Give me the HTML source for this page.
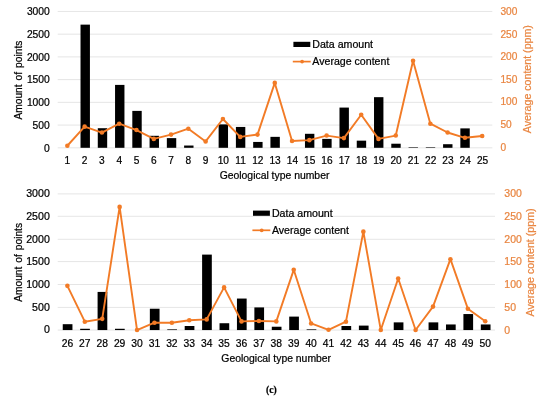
<!DOCTYPE html>
<html><head><meta charset="utf-8"><title>chart</title><style>html,body{margin:0;padding:0;background:#fff}body{width:550px;height:402px;overflow:hidden}</style></head><body>
<svg width="550" height="402" viewBox="0 0 550 402" style="display:block;font-family:'Liberation Sans',Arial,sans-serif;font-size:10.2px">
<rect width="550" height="402" fill="#fff"/>
<line x1="57.7" x2="492.3" y1="147.80" y2="147.80" stroke="#DCDCDC" stroke-width="0.75"/>
<text x="49.8" y="151.50" text-anchor="end" fill="#000" stroke="#000" stroke-width="0.22" style="font-size:10.3px">0</text>
<text x="500.4" y="150.60" fill="#E98540" stroke="#E98540" stroke-width="0.22" style="font-size:10.15px">0</text>
<line x1="57.7" x2="492.3" y1="125.08" y2="125.08" stroke="#DCDCDC" stroke-width="0.75"/>
<text x="49.8" y="128.78" text-anchor="end" fill="#000" stroke="#000" stroke-width="0.22" style="font-size:10.3px">500</text>
<text x="500.4" y="128.03" fill="#E98540" stroke="#E98540" stroke-width="0.22" style="font-size:10.15px">50</text>
<line x1="57.7" x2="492.3" y1="102.35" y2="102.35" stroke="#DCDCDC" stroke-width="0.75"/>
<text x="49.8" y="106.05" text-anchor="end" fill="#000" stroke="#000" stroke-width="0.22" style="font-size:10.3px">1000</text>
<text x="500.4" y="105.45" fill="#E98540" stroke="#E98540" stroke-width="0.22" style="font-size:10.15px">100</text>
<line x1="57.7" x2="492.3" y1="79.62" y2="79.62" stroke="#DCDCDC" stroke-width="0.75"/>
<text x="49.8" y="83.33" text-anchor="end" fill="#000" stroke="#000" stroke-width="0.22" style="font-size:10.3px">1500</text>
<text x="500.4" y="82.88" fill="#E98540" stroke="#E98540" stroke-width="0.22" style="font-size:10.15px">150</text>
<line x1="57.7" x2="492.3" y1="56.90" y2="56.90" stroke="#DCDCDC" stroke-width="0.75"/>
<text x="49.8" y="60.60" text-anchor="end" fill="#000" stroke="#000" stroke-width="0.22" style="font-size:10.3px">2000</text>
<text x="500.4" y="60.30" fill="#E98540" stroke="#E98540" stroke-width="0.22" style="font-size:10.15px">200</text>
<line x1="57.7" x2="492.3" y1="34.17" y2="34.17" stroke="#DCDCDC" stroke-width="0.75"/>
<text x="49.8" y="37.88" text-anchor="end" fill="#000" stroke="#000" stroke-width="0.22" style="font-size:10.3px">2500</text>
<text x="500.4" y="37.73" fill="#E98540" stroke="#E98540" stroke-width="0.22" style="font-size:10.15px">250</text>
<line x1="57.7" x2="492.3" y1="11.45" y2="11.45" stroke="#DCDCDC" stroke-width="0.75"/>
<text x="49.8" y="15.15" text-anchor="end" fill="#000" stroke="#000" stroke-width="0.22" style="font-size:10.3px">3000</text>
<text x="500.4" y="15.15" fill="#E98540" stroke="#E98540" stroke-width="0.22" style="font-size:10.15px">300</text>
<rect x="80.52" y="24.63" width="9.4" height="123.17" fill="#000"/>
<rect x="97.78" y="128.21" width="9.4" height="19.59" fill="#000"/>
<rect x="115.05" y="84.90" width="9.4" height="62.90" fill="#000"/>
<rect x="132.31" y="110.89" width="9.4" height="36.91" fill="#000"/>
<rect x="149.58" y="135.80" width="9.4" height="12.00" fill="#000"/>
<rect x="166.84" y="138.12" width="9.4" height="9.68" fill="#000"/>
<rect x="184.11" y="145.53" width="9.4" height="2.27" fill="#000"/>
<rect x="218.63" y="124.39" width="9.4" height="23.41" fill="#000"/>
<rect x="235.90" y="126.94" width="9.4" height="20.86" fill="#000"/>
<rect x="253.17" y="141.94" width="9.4" height="5.86" fill="#000"/>
<rect x="270.43" y="136.85" width="9.4" height="10.95" fill="#000"/>
<rect x="304.96" y="133.80" width="9.4" height="14.00" fill="#000"/>
<rect x="322.23" y="138.89" width="9.4" height="8.91" fill="#000"/>
<rect x="339.49" y="107.58" width="9.4" height="40.22" fill="#000"/>
<rect x="356.75" y="140.66" width="9.4" height="7.14" fill="#000"/>
<rect x="374.02" y="97.17" width="9.4" height="50.63" fill="#000"/>
<rect x="391.29" y="143.71" width="9.4" height="4.09" fill="#000"/>
<rect x="408.55" y="147.25" width="9.4" height="0.55" fill="#000"/>
<rect x="425.81" y="147.25" width="9.4" height="0.55" fill="#000"/>
<rect x="443.08" y="144.21" width="9.4" height="3.59" fill="#000"/>
<rect x="460.35" y="128.39" width="9.4" height="19.41" fill="#000"/>
<polyline fill="none" stroke="#F27B26" stroke-width="1.9" stroke-linejoin="round" points="67.35,145.75 84.63,126.67 101.92,132.53 119.20,123.71 136.49,130.07 153.77,138.89 171.06,134.62 188.34,128.71 205.63,141.44 222.91,119.03 240.20,136.89 257.49,134.62 274.77,82.90 292.06,140.98 309.34,140.16 326.62,135.57 343.91,138.12 361.20,114.71 378.48,138.89 395.76,135.57 413.05,60.76 430.34,123.71 447.62,132.48 464.90,137.80 482.19,136.03"/>
<circle cx="67.35" cy="145.75" r="2.3" fill="#F27B26"/>
<circle cx="84.63" cy="126.67" r="2.3" fill="#F27B26"/>
<circle cx="101.92" cy="132.53" r="2.3" fill="#F27B26"/>
<circle cx="119.20" cy="123.71" r="2.3" fill="#F27B26"/>
<circle cx="136.49" cy="130.07" r="2.3" fill="#F27B26"/>
<circle cx="153.77" cy="138.89" r="2.3" fill="#F27B26"/>
<circle cx="171.06" cy="134.62" r="2.3" fill="#F27B26"/>
<circle cx="188.34" cy="128.71" r="2.3" fill="#F27B26"/>
<circle cx="205.63" cy="141.44" r="2.3" fill="#F27B26"/>
<circle cx="222.91" cy="119.03" r="2.3" fill="#F27B26"/>
<circle cx="240.20" cy="136.89" r="2.3" fill="#F27B26"/>
<circle cx="257.49" cy="134.62" r="2.3" fill="#F27B26"/>
<circle cx="274.77" cy="82.90" r="2.3" fill="#F27B26"/>
<circle cx="292.06" cy="140.98" r="2.3" fill="#F27B26"/>
<circle cx="309.34" cy="140.16" r="2.3" fill="#F27B26"/>
<circle cx="326.62" cy="135.57" r="2.3" fill="#F27B26"/>
<circle cx="343.91" cy="138.12" r="2.3" fill="#F27B26"/>
<circle cx="361.20" cy="114.71" r="2.3" fill="#F27B26"/>
<circle cx="378.48" cy="138.89" r="2.3" fill="#F27B26"/>
<circle cx="395.76" cy="135.57" r="2.3" fill="#F27B26"/>
<circle cx="413.05" cy="60.76" r="2.3" fill="#F27B26"/>
<circle cx="430.34" cy="123.71" r="2.3" fill="#F27B26"/>
<circle cx="447.62" cy="132.48" r="2.3" fill="#F27B26"/>
<circle cx="464.90" cy="137.80" r="2.3" fill="#F27B26"/>
<circle cx="482.19" cy="136.03" r="2.3" fill="#F27B26"/>
<text x="67.35" y="163.70" text-anchor="middle" fill="#000" stroke="#000" stroke-width="0.22" style="font-size:10.15px">1</text>
<text x="84.63" y="163.70" text-anchor="middle" fill="#000" stroke="#000" stroke-width="0.22" style="font-size:10.15px">2</text>
<text x="101.92" y="163.70" text-anchor="middle" fill="#000" stroke="#000" stroke-width="0.22" style="font-size:10.15px">3</text>
<text x="119.20" y="163.70" text-anchor="middle" fill="#000" stroke="#000" stroke-width="0.22" style="font-size:10.15px">4</text>
<text x="136.49" y="163.70" text-anchor="middle" fill="#000" stroke="#000" stroke-width="0.22" style="font-size:10.15px">5</text>
<text x="153.77" y="163.70" text-anchor="middle" fill="#000" stroke="#000" stroke-width="0.22" style="font-size:10.15px">6</text>
<text x="171.06" y="163.70" text-anchor="middle" fill="#000" stroke="#000" stroke-width="0.22" style="font-size:10.15px">7</text>
<text x="188.34" y="163.70" text-anchor="middle" fill="#000" stroke="#000" stroke-width="0.22" style="font-size:10.15px">8</text>
<text x="205.63" y="163.70" text-anchor="middle" fill="#000" stroke="#000" stroke-width="0.22" style="font-size:10.15px">9</text>
<text x="223.26" y="163.70" text-anchor="middle" fill="#000" stroke="#000" stroke-width="0.22" style="font-size:10.15px">10</text>
<text x="240.55" y="163.70" text-anchor="middle" fill="#000" stroke="#000" stroke-width="0.22" style="font-size:10.15px">11</text>
<text x="257.84" y="163.70" text-anchor="middle" fill="#000" stroke="#000" stroke-width="0.22" style="font-size:10.15px">12</text>
<text x="275.12" y="163.70" text-anchor="middle" fill="#000" stroke="#000" stroke-width="0.22" style="font-size:10.15px">13</text>
<text x="292.41" y="163.70" text-anchor="middle" fill="#000" stroke="#000" stroke-width="0.22" style="font-size:10.15px">14</text>
<text x="309.69" y="163.70" text-anchor="middle" fill="#000" stroke="#000" stroke-width="0.22" style="font-size:10.15px">15</text>
<text x="326.98" y="163.70" text-anchor="middle" fill="#000" stroke="#000" stroke-width="0.22" style="font-size:10.15px">16</text>
<text x="344.26" y="163.70" text-anchor="middle" fill="#000" stroke="#000" stroke-width="0.22" style="font-size:10.15px">17</text>
<text x="361.55" y="163.70" text-anchor="middle" fill="#000" stroke="#000" stroke-width="0.22" style="font-size:10.15px">18</text>
<text x="378.83" y="163.70" text-anchor="middle" fill="#000" stroke="#000" stroke-width="0.22" style="font-size:10.15px">19</text>
<text x="396.12" y="163.70" text-anchor="middle" fill="#000" stroke="#000" stroke-width="0.22" style="font-size:10.15px">20</text>
<text x="413.40" y="163.70" text-anchor="middle" fill="#000" stroke="#000" stroke-width="0.22" style="font-size:10.15px">21</text>
<text x="430.69" y="163.70" text-anchor="middle" fill="#000" stroke="#000" stroke-width="0.22" style="font-size:10.15px">22</text>
<text x="447.97" y="163.70" text-anchor="middle" fill="#000" stroke="#000" stroke-width="0.22" style="font-size:10.15px">23</text>
<text x="465.25" y="163.70" text-anchor="middle" fill="#000" stroke="#000" stroke-width="0.22" style="font-size:10.15px">24</text>
<text x="482.54" y="163.70" text-anchor="middle" fill="#000" stroke="#000" stroke-width="0.22" style="font-size:10.15px">25</text>
<text x="274.5" y="179.00" text-anchor="middle" fill="#000" stroke="#000" stroke-width="0.22" style="font-size:10.4px">Geological type number</text>
<text transform="translate(21.5,80.12) rotate(-90)" text-anchor="middle" fill="#000" stroke="#000" stroke-width="0.22" style="word-spacing:1.2px">Amount of points</text>
<text transform="translate(530.9,79.12) rotate(-90)" text-anchor="middle" fill="#E98540" stroke="#E98540" stroke-width="0.22" style="font-size:10.65px">Average content (ppm)</text>
<rect x="293.4" y="41.80" width="16.9" height="5.2" fill="#000"/>
<text x="312.29999999999995" y="48.10" fill="#000" stroke="#000" stroke-width="0.22" style="font-size:10.62px">Data amount</text>
<line x1="292.79999999999995" x2="310.7" y1="61.60" y2="61.60" stroke="#F27B26" stroke-width="1.7"/>
<circle cx="302.09999999999997" cy="61.60" r="1.9" fill="#F27B26"/>
<text x="312.29999999999995" y="65.30" fill="#000" stroke="#000" stroke-width="0.22" style="font-size:10.62px">Average content</text>
<line x1="57.7" x2="495.0" y1="330.05" y2="330.05" stroke="#DCDCDC" stroke-width="0.75"/>
<text x="49.8" y="333.25" text-anchor="end" fill="#000" stroke="#000" stroke-width="0.22" style="font-size:10.6px">0</text>
<text x="504.3" y="333.55" fill="#E98540" stroke="#E98540" stroke-width="0.22" style="font-size:10.5px">0</text>
<line x1="57.7" x2="495.0" y1="307.40" y2="307.40" stroke="#DCDCDC" stroke-width="0.75"/>
<text x="49.8" y="310.60" text-anchor="end" fill="#000" stroke="#000" stroke-width="0.22" style="font-size:10.6px">500</text>
<text x="504.3" y="310.90" fill="#E98540" stroke="#E98540" stroke-width="0.22" style="font-size:10.5px">50</text>
<line x1="57.7" x2="495.0" y1="284.50" y2="284.50" stroke="#DCDCDC" stroke-width="0.75"/>
<text x="49.8" y="287.70" text-anchor="end" fill="#000" stroke="#000" stroke-width="0.22" style="font-size:10.6px">1000</text>
<text x="504.3" y="288.00" fill="#E98540" stroke="#E98540" stroke-width="0.22" style="font-size:10.5px">100</text>
<line x1="57.7" x2="495.0" y1="261.60" y2="261.60" stroke="#DCDCDC" stroke-width="0.75"/>
<text x="49.8" y="264.80" text-anchor="end" fill="#000" stroke="#000" stroke-width="0.22" style="font-size:10.6px">1500</text>
<text x="504.3" y="265.10" fill="#E98540" stroke="#E98540" stroke-width="0.22" style="font-size:10.5px">150</text>
<line x1="57.7" x2="495.0" y1="239.30" y2="239.30" stroke="#DCDCDC" stroke-width="0.75"/>
<text x="49.8" y="242.50" text-anchor="end" fill="#000" stroke="#000" stroke-width="0.22" style="font-size:10.6px">2000</text>
<text x="504.3" y="242.80" fill="#E98540" stroke="#E98540" stroke-width="0.22" style="font-size:10.5px">200</text>
<line x1="57.7" x2="495.0" y1="216.30" y2="216.30" stroke="#DCDCDC" stroke-width="0.75"/>
<text x="49.8" y="219.50" text-anchor="end" fill="#000" stroke="#000" stroke-width="0.22" style="font-size:10.6px">2500</text>
<text x="504.3" y="219.80" fill="#E98540" stroke="#E98540" stroke-width="0.22" style="font-size:10.5px">250</text>
<line x1="57.7" x2="495.0" y1="193.90" y2="193.90" stroke="#DCDCDC" stroke-width="0.75"/>
<text x="49.8" y="197.10" text-anchor="end" fill="#000" stroke="#000" stroke-width="0.22" style="font-size:10.6px">3000</text>
<text x="504.3" y="197.40" fill="#E98540" stroke="#E98540" stroke-width="0.22" style="font-size:10.5px">300</text>
<rect x="62.75" y="324.19" width="9.7" height="5.86" fill="#000"/>
<rect x="80.17" y="328.78" width="9.7" height="1.27" fill="#000"/>
<rect x="97.59" y="291.92" width="9.7" height="38.13" fill="#000"/>
<rect x="115.01" y="328.78" width="9.7" height="1.27" fill="#000"/>
<rect x="149.85" y="308.73" width="9.7" height="21.32" fill="#000"/>
<rect x="167.27" y="329.37" width="9.7" height="0.68" fill="#000"/>
<rect x="184.69" y="326.00" width="9.7" height="4.05" fill="#000"/>
<rect x="202.11" y="254.60" width="9.7" height="75.45" fill="#000"/>
<rect x="219.53" y="323.23" width="9.7" height="6.82" fill="#000"/>
<rect x="236.95" y="298.55" width="9.7" height="31.50" fill="#000"/>
<rect x="254.37" y="307.42" width="9.7" height="22.63" fill="#000"/>
<rect x="271.79" y="326.73" width="9.7" height="3.32" fill="#000"/>
<rect x="289.21" y="316.60" width="9.7" height="13.45" fill="#000"/>
<rect x="306.63" y="329.37" width="9.7" height="0.68" fill="#000"/>
<rect x="341.47" y="326.00" width="9.7" height="4.05" fill="#000"/>
<rect x="358.89" y="325.60" width="9.7" height="4.45" fill="#000"/>
<rect x="393.73" y="322.37" width="9.7" height="7.68" fill="#000"/>
<rect x="428.57" y="322.37" width="9.7" height="7.68" fill="#000"/>
<rect x="445.99" y="324.46" width="9.7" height="5.59" fill="#000"/>
<rect x="463.41" y="314.05" width="9.7" height="16.00" fill="#000"/>
<rect x="480.83" y="324.46" width="9.7" height="5.59" fill="#000"/>
<polyline fill="none" stroke="#F27B26" stroke-width="1.9" stroke-linejoin="round" points="67.40,285.83 84.81,321.69 102.22,318.87 119.63,206.88 137.04,330.05 154.45,322.69 171.86,322.69 189.27,320.19 206.68,319.41 224.09,287.42 241.50,321.41 258.91,320.96 276.32,321.41 293.73,269.83 311.14,323.46 328.55,329.82 345.96,321.69 363.37,231.65 380.78,330.05 398.19,278.56 415.60,330.05 433.01,306.60 450.42,259.19 467.83,308.69 485.24,321.19"/>
<circle cx="67.40" cy="285.83" r="2.3" fill="#F27B26"/>
<circle cx="84.81" cy="321.69" r="2.3" fill="#F27B26"/>
<circle cx="102.22" cy="318.87" r="2.3" fill="#F27B26"/>
<circle cx="119.63" cy="206.88" r="2.3" fill="#F27B26"/>
<circle cx="137.04" cy="330.05" r="2.3" fill="#F27B26"/>
<circle cx="154.45" cy="322.69" r="2.3" fill="#F27B26"/>
<circle cx="171.86" cy="322.69" r="2.3" fill="#F27B26"/>
<circle cx="189.27" cy="320.19" r="2.3" fill="#F27B26"/>
<circle cx="206.68" cy="319.41" r="2.3" fill="#F27B26"/>
<circle cx="224.09" cy="287.42" r="2.3" fill="#F27B26"/>
<circle cx="241.50" cy="321.41" r="2.3" fill="#F27B26"/>
<circle cx="258.91" cy="320.96" r="2.3" fill="#F27B26"/>
<circle cx="276.32" cy="321.41" r="2.3" fill="#F27B26"/>
<circle cx="293.73" cy="269.83" r="2.3" fill="#F27B26"/>
<circle cx="311.14" cy="323.46" r="2.3" fill="#F27B26"/>
<circle cx="328.55" cy="329.82" r="2.3" fill="#F27B26"/>
<circle cx="345.96" cy="321.69" r="2.3" fill="#F27B26"/>
<circle cx="363.37" cy="231.65" r="2.3" fill="#F27B26"/>
<circle cx="380.78" cy="330.05" r="2.3" fill="#F27B26"/>
<circle cx="398.19" cy="278.56" r="2.3" fill="#F27B26"/>
<circle cx="415.60" cy="330.05" r="2.3" fill="#F27B26"/>
<circle cx="433.01" cy="306.60" r="2.3" fill="#F27B26"/>
<circle cx="450.42" cy="259.19" r="2.3" fill="#F27B26"/>
<circle cx="467.83" cy="308.69" r="2.3" fill="#F27B26"/>
<circle cx="485.24" cy="321.19" r="2.3" fill="#F27B26"/>
<text x="67.40" y="347.00" text-anchor="middle" fill="#000" stroke="#000" stroke-width="0.22" style="font-size:10.3px">26</text>
<text x="84.81" y="347.00" text-anchor="middle" fill="#000" stroke="#000" stroke-width="0.22" style="font-size:10.3px">27</text>
<text x="102.22" y="347.00" text-anchor="middle" fill="#000" stroke="#000" stroke-width="0.22" style="font-size:10.3px">28</text>
<text x="119.63" y="347.00" text-anchor="middle" fill="#000" stroke="#000" stroke-width="0.22" style="font-size:10.3px">29</text>
<text x="137.04" y="347.00" text-anchor="middle" fill="#000" stroke="#000" stroke-width="0.22" style="font-size:10.3px">30</text>
<text x="154.45" y="347.00" text-anchor="middle" fill="#000" stroke="#000" stroke-width="0.22" style="font-size:10.3px">31</text>
<text x="171.86" y="347.00" text-anchor="middle" fill="#000" stroke="#000" stroke-width="0.22" style="font-size:10.3px">32</text>
<text x="189.27" y="347.00" text-anchor="middle" fill="#000" stroke="#000" stroke-width="0.22" style="font-size:10.3px">33</text>
<text x="206.68" y="347.00" text-anchor="middle" fill="#000" stroke="#000" stroke-width="0.22" style="font-size:10.3px">34</text>
<text x="224.09" y="347.00" text-anchor="middle" fill="#000" stroke="#000" stroke-width="0.22" style="font-size:10.3px">35</text>
<text x="241.50" y="347.00" text-anchor="middle" fill="#000" stroke="#000" stroke-width="0.22" style="font-size:10.3px">36</text>
<text x="258.91" y="347.00" text-anchor="middle" fill="#000" stroke="#000" stroke-width="0.22" style="font-size:10.3px">37</text>
<text x="276.32" y="347.00" text-anchor="middle" fill="#000" stroke="#000" stroke-width="0.22" style="font-size:10.3px">38</text>
<text x="293.73" y="347.00" text-anchor="middle" fill="#000" stroke="#000" stroke-width="0.22" style="font-size:10.3px">39</text>
<text x="311.14" y="347.00" text-anchor="middle" fill="#000" stroke="#000" stroke-width="0.22" style="font-size:10.3px">40</text>
<text x="328.55" y="347.00" text-anchor="middle" fill="#000" stroke="#000" stroke-width="0.22" style="font-size:10.3px">41</text>
<text x="345.96" y="347.00" text-anchor="middle" fill="#000" stroke="#000" stroke-width="0.22" style="font-size:10.3px">42</text>
<text x="363.37" y="347.00" text-anchor="middle" fill="#000" stroke="#000" stroke-width="0.22" style="font-size:10.3px">43</text>
<text x="380.78" y="347.00" text-anchor="middle" fill="#000" stroke="#000" stroke-width="0.22" style="font-size:10.3px">44</text>
<text x="398.19" y="347.00" text-anchor="middle" fill="#000" stroke="#000" stroke-width="0.22" style="font-size:10.3px">45</text>
<text x="415.60" y="347.00" text-anchor="middle" fill="#000" stroke="#000" stroke-width="0.22" style="font-size:10.3px">46</text>
<text x="433.01" y="347.00" text-anchor="middle" fill="#000" stroke="#000" stroke-width="0.22" style="font-size:10.3px">47</text>
<text x="450.42" y="347.00" text-anchor="middle" fill="#000" stroke="#000" stroke-width="0.22" style="font-size:10.3px">48</text>
<text x="467.83" y="347.00" text-anchor="middle" fill="#000" stroke="#000" stroke-width="0.22" style="font-size:10.3px">49</text>
<text x="485.24" y="347.00" text-anchor="middle" fill="#000" stroke="#000" stroke-width="0.22" style="font-size:10.3px">50</text>
<text x="276.2" y="361.75" text-anchor="middle" fill="#000" stroke="#000" stroke-width="0.22" style="font-size:10.4px">Geological type number</text>
<text transform="translate(21.5,262.38) rotate(-90)" text-anchor="middle" fill="#000" stroke="#000" stroke-width="0.22" style="word-spacing:1.2px">Amount of points</text>
<text transform="translate(534.2,262.48) rotate(-90)" text-anchor="middle" fill="#E98540" stroke="#E98540" stroke-width="0.22" style="font-size:10.65px">Average content (ppm)</text>
<rect x="253.0" y="210.60" width="16.9" height="5.2" fill="#000"/>
<text x="271.9" y="216.90" fill="#000" stroke="#000" stroke-width="0.22" style="font-size:10.62px">Data amount</text>
<line x1="252.4" x2="270.3" y1="230.30" y2="230.30" stroke="#F27B26" stroke-width="1.7"/>
<circle cx="261.7" cy="230.30" r="1.9" fill="#F27B26"/>
<text x="271.9" y="234.00" fill="#000" stroke="#000" stroke-width="0.22" style="font-size:10.62px">Average content</text>
<text x="271.4" y="393.0" text-anchor="middle" fill="#000" stroke="#000" stroke-width="0.22" style="font-family:'Liberation Serif',serif;font-weight:bold;font-size:9.7px">(c)</text>
</svg>
</body></html>
